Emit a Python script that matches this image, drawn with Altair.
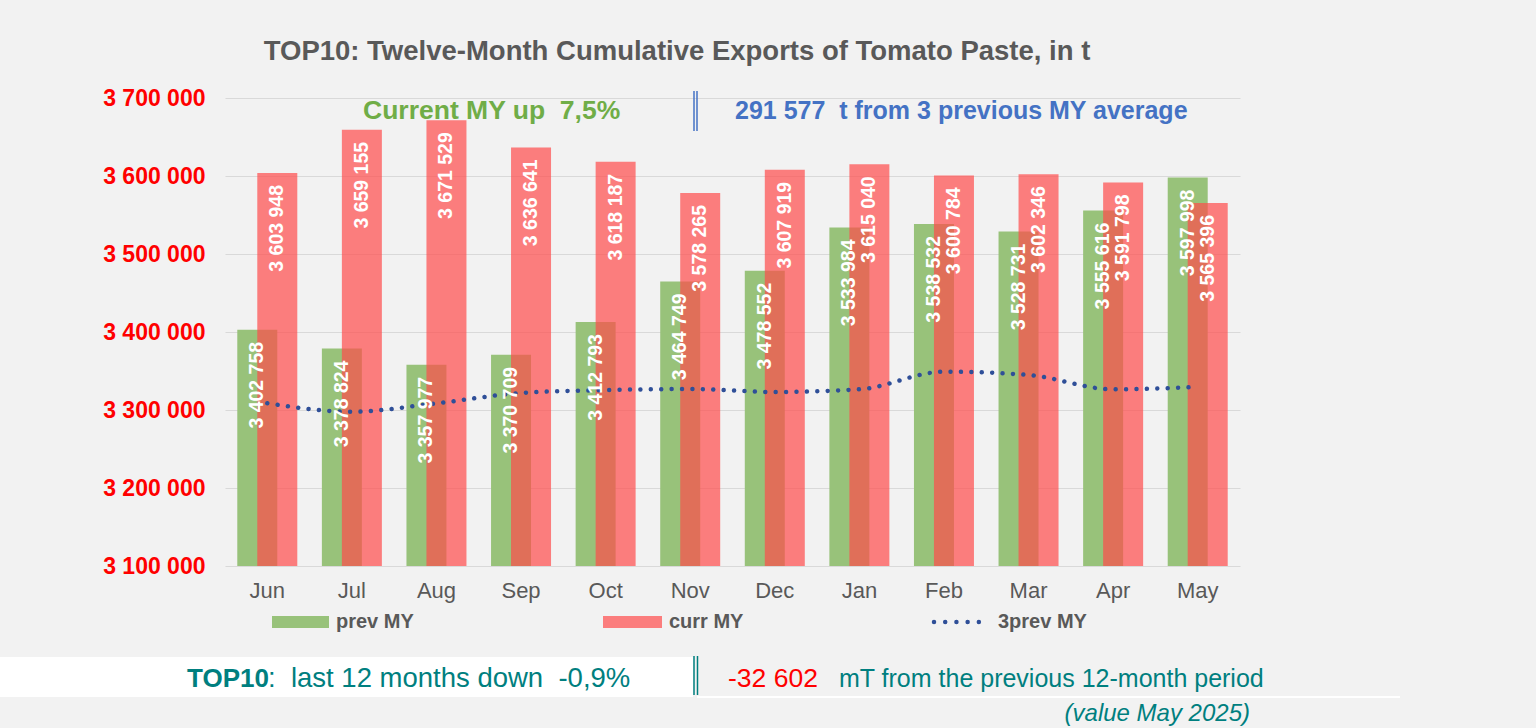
import altair as alt
import pandas as pd

# Marketing-year months and twelve-month cumulative exports (t)
months = ["Jun", "Jul", "Aug", "Sep", "Oct", "Nov", "Dec", "Jan", "Feb", "Mar", "Apr", "May"]
prev_my = [3402758, 3378824, 3357977, 3370709, 3412793, 3464749,
           3478552, 3533984, 3538532, 3528731, 3555616, 3597998]
curr_my = [3603948, 3659155, 3671529, 3636641, 3618187, 3578265,
           3607919, 3615040, 3600784, 3602346, 3591798, 3565396]
avg_3prev = [3308600, 3297800, 3308600, 3321800, 3325600, 3326900,
             3323100, 3326500, 3349100, 3344900, 3326500, 3329500]
y_ticks = [3100000, 3200000, 3300000, 3400000, 3500000, 3600000, 3700000]

NB = "\u00a0"  # keeps doubled spaces from collapsing in SVG text


def spaced(v):
    return f"{v:,}".replace(",", " ")


df = pd.DataFrame({
    "month": months,
    "prev": prev_my,
    "curr": curr_my,
    "avg": avg_3prev,
    "prev_lbl": [spaced(v) for v in prev_my],
    "curr_lbl": [spaced(v) for v in curr_my],
})

FONT = "Liberation Sans"
GREEN = "#98C27A"
RED = "#FF4C4C"
RED_OPACITY = 0.7
DOT_BLUE = "#2F4F98"
GRAY = "#595959"
TEAL = "#007F7F"
BASE = 3100000

W, H = 1015, 468

x_enc = alt.X("month:N", sort=months, title=None,
              scale=alt.Scale(paddingInner=0, paddingOuter=0),
              axis=alt.Axis(labelFont=FONT, labelFontSize=22, labelColor=GRAY,
                            labelPadding=14, ticks=False, domain=False,
                            grid=False, labelAngle=0))
y_scale = alt.Scale(domain=[BASE, 3700000], zero=False, nice=False)
y_axis = alt.Axis(values=y_ticks, title=None, ticks=False, domain=False,
                  labelFont=FONT, labelFontSize=23, labelFontWeight="bold",
                  labelColor="#FF0000", labelPadding=20,
                  gridColor="#D9D9D9", gridWidth=1,
                  labelExpr="replace(replace(format(datum.value, ','), ',', ' '), ',', ' ')")

base = alt.Chart(df)

prev_bars = base.mark_bar(width=40, xOffset=-10, color=GREEN).encode(
    x=x_enc,
    y=alt.Y("prev:Q", scale=y_scale, axis=y_axis),
    y2=alt.datum(BASE),
)
curr_bars = base.mark_bar(width=40, xOffset=10, color=RED, opacity=RED_OPACITY).encode(
    x=alt.X("month:N", sort=months),
    y=alt.Y("curr:Q"),
    y2=alt.datum(BASE),
)
avg_line = base.mark_line(interpolate="monotone", color=DOT_BLUE, strokeWidth=4.5,
                          strokeDash=[0.01, 10.4], strokeCap="round").encode(
    x=alt.X("month:N", sort=months),
    y=alt.Y("avg:Q"),
)
label_style = dict(angle=270, align="right", baseline="middle", dx=-12,
                   font=FONT, fontSize=19.5, fontWeight="bold", color="white")
prev_text = base.mark_text(xOffset=-10, **label_style).encode(
    x=alt.X("month:N", sort=months), y=alt.Y("prev:Q"), text="prev_lbl:N")
curr_text = base.mark_text(xOffset=10, **label_style).encode(
    x=alt.X("month:N", sort=months), y=alt.Y("curr:Q"), text="curr_lbl:N")


def note(text, x, y, size, color, weight="normal", align="left", style="normal"):
    return alt.Chart(pd.DataFrame({"t": [text]})).mark_text(
        font=FONT, fontSize=size, color=color, fontWeight=weight,
        align=align, baseline="middle", fontStyle=style,
    ).encode(x=alt.value(x), y=alt.value(y), text="t:N")


def box(x1, x2, y1, y2, color, opacity=1.0):
    return alt.Chart(pd.DataFrame({"k": [0]})).mark_rect(color=color, opacity=opacity).encode(
        x=alt.value(x1), x2=alt.value(x2), y=alt.value(y1), y2=alt.value(y2))


def vline(x, y1, y2, color, width=1.5):
    return alt.Chart(pd.DataFrame({"k": [0]})).mark_rule(color=color, strokeWidth=width).encode(
        x=alt.value(x), y=alt.value(y1), y2=alt.value(y2))


# offsets below are relative to the plot origin (left 225, top 98)
title = note("TOP10: Twelve-Month Cumulative Exports of Tomato Paste, in t",
             452, -46, 27.5, GRAY, weight="bold", align="center")

head_left = note(f"Current MY up {NB}7,5%", 138, 13, 26.5, "#70AD47", weight="bold")
head_sep = vline(469, -7, 33, "#4472C4") + vline(472, -7, 33, "#4472C4")
head_right = note(f"291 577 {NB}t from 3 previous MY average", 510, 13, 25, "#4472C4", weight="bold")

leg_prev = box(47, 104, 518, 530, GREEN) + note("prev MY", 111, 524, 20, GRAY, weight="bold")
leg_curr = box(378, 437, 518, 530, RED, RED_OPACITY) + note("curr MY", 444, 524, 20, GRAY, weight="bold")
leg_avg = alt.Chart(pd.DataFrame({"k": [0]})).mark_rule(
    color=DOT_BLUE, strokeWidth=4.5, strokeDash=[0.01, 11.2], strokeCap="round"
).encode(x=alt.value(709), x2=alt.value(765), y=alt.value(524)) + \
    note("3prev MY", 773, 524, 20, GRAY, weight="bold")

foot_band = box(-225, 468, 559, 599, "white") + box(472, 1175, 598, 600, "white")
foot_sep = vline(469, 558, 597, TEAL) + vline(472.5, 558, 597, TEAL)
foot_a = note("TOP10", -38, 581, 26, TEAL, weight="bold")
foot_b = note(f":{NB} last 12 months down {NB}-0,9%", 43, 581, 27.5, TEAL)
foot_c = note("-32 602", 503, 581, 26.5, "#FF0000")
foot_d = note("mT from the previous 12-month period", 614, 581, 25, TEAL)
foot_e = note("(value May 2025)", 1025, 616, 24, TEAL, align="right", style="italic")

chart = alt.layer(
    prev_bars, curr_bars, avg_line, prev_text, curr_text,
    title, head_left, head_sep, head_right,
    leg_prev, leg_curr, leg_avg,
    foot_band, foot_sep, foot_a, foot_b, foot_c, foot_d, foot_e,
).properties(
    width=W, height=H,
    autosize=alt.AutoSizeParams(type="none"),
    padding={"left": 225, "top": 98, "right": 296, "bottom": 162},
    background="#F2F2F2",
).configure_view(strokeWidth=0)

chart.save("out.html", embed_options={"renderer": "svg", "actions": False})
